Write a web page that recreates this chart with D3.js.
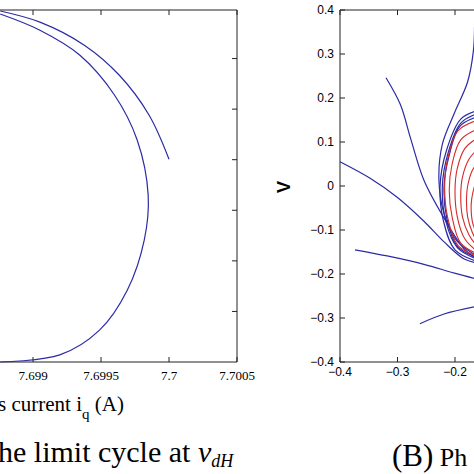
<!DOCTYPE html><html><head><meta charset="utf-8"><script src="https://cdn.jsdelivr.net/npm/d3@7"></script>
<style>body{margin:0;background:#fff}</style></head><body><svg id="c" width="474" height="474"></svg>
<script>
// Panel A: limit cycle (iq in A, y in arbitrary units)
const cycleOuter=[[7.698759,6.94],[7.699051,6.72],[7.699380,6.26],[7.699635,5.67],[7.699854,4.88],[7.7000,4.01]];
const cycleInner=[[7.698759,6.88],[7.699051,6.56],[7.699343,6.07],[7.699599,5.28],[7.699766,4.39],[7.699847,3.30],[7.699818,2.41],[7.699693,1.42],[7.699489,0.63],[7.699197,0.14],[7.698759,0]];
const xTicksA=[7.699,7.6995,7.7,7.7005];
const xTickLabelsA=["7.699","7.6995","7.7","7.7005"];
const yTicksA=[1,2,3,4,5,6];
// Panel B: phase trajectories
const blueTraj=[
 [[-0.4,0.055],[-0.347,0.017],[-0.30,-0.026],[-0.254,-0.08],[-0.219,-0.127],[-0.184,-0.166],[-0.16,-0.175]],
 [[-0.320,0.246],[-0.295,0.185],[-0.277,0.107],[-0.254,0.013],[-0.219,-0.073],[-0.184,-0.143],[-0.16,-0.168]],
 [[-0.374,-0.145],[-0.318,-0.159],[-0.254,-0.178],[-0.201,-0.198],[-0.16,-0.212]],
 [[-0.261,-0.313],[-0.219,-0.291],[-0.16,-0.273]],
 [[-0.166,0.362],[-0.168,0.307],[-0.178,0.237],[-0.201,0.166],[-0.222,0.095],[-0.228,0.016],[-0.219,-0.063],[-0.196,-0.126],[-0.16,-0.16]],
 [[-0.16,0.172],[-0.19,0.152],[-0.215,0.08],[-0.226,0],[-0.22,-0.08],[-0.2,-0.145],[-0.16,-0.172]],
 [[-0.16,0.165],[-0.19,0.143],[-0.212,0.075],[-0.222,0],[-0.216,-0.08],[-0.196,-0.14],[-0.16,-0.167]],
 [[-0.16,0.158],[-0.192,0.135],[-0.21,0.07],[-0.219,0],[-0.214,-0.075],[-0.196,-0.137],[-0.16,-0.163]]
];
const redTraj=[
 [[-0.16,0.15],[-0.195,0.125],[-0.213,0.06],[-0.218,0],[-0.213,-0.07],[-0.195,-0.135],[-0.16,-0.16]],
 [[-0.16,0.13],[-0.19,0.105],[-0.205,0.05],[-0.21,-0.01],[-0.205,-0.07],[-0.19,-0.13],[-0.16,-0.155]],
 [[-0.16,0.11],[-0.183,0.085],[-0.196,0.04],[-0.2,-0.01],[-0.196,-0.07],[-0.183,-0.12],[-0.16,-0.15]],
 [[-0.16,0.085],[-0.176,0.06],[-0.187,0.02],[-0.19,-0.02],[-0.187,-0.07],[-0.176,-0.11],[-0.16,-0.14]],
 [[-0.16,0.055],[-0.17,0.035],[-0.178,0],[-0.18,-0.03],[-0.178,-0.07],[-0.17,-0.105],[-0.16,-0.13]],
 [[-0.16,0.02],[-0.166,0.0],[-0.171,-0.03],[-0.172,-0.05],[-0.17,-0.08],[-0.165,-0.1],[-0.16,-0.11]]
];
const xTicksB=[-0.4,-0.3,-0.2];
const yTicksB=[-0.4,-0.3,-0.2,-0.1,0,0.1,0.2,0.3,0.4];

const svg=d3.select("#c");
const blue="#2b2ba6", red="#d42a2a";
const fmtB=t=>t===0?"0":d3.format(".1f")(t).replace("-","\u2212");
// Panel A
const xA=d3.scaleLinear().domain([7.699,7.7005]).range([33,237]);
const yA=d3.scaleLinear().domain([0,6.96]).range([362,10]);
const gA=svg.append("g");
gA.append("line").attr("x1",0).attr("x2",237).attr("y1",10).attr("y2",10).attr("stroke","#222");
gA.append("line").attr("x1",0).attr("x2",237).attr("y1",362).attr("y2",362).attr("stroke","#222");
gA.append("line").attr("x1",237).attr("x2",237).attr("y1",10).attr("y2",362).attr("stroke","#222");
xTicksA.forEach((t,i)=>{const x=xA(t);
 gA.append("line").attr("x1",x).attr("x2",x).attr("y1",362).attr("y2",357).attr("stroke","#222");
 gA.append("line").attr("x1",x).attr("x2",x).attr("y1",10).attr("y2",15).attr("stroke","#222");
 gA.append("text").attr("x",x).attr("y",380).attr("text-anchor","middle").attr("font-family","Liberation Serif").attr("font-size",13).text(xTickLabelsA[i]);});
yTicksA.forEach(t=>{gA.append("line").attr("x1",237).attr("x2",232).attr("y1",yA(t)).attr("y2",yA(t)).attr("stroke","#222");});
const lineA=d3.line().x(d=>xA(d[0])).y(d=>yA(d[1])).curve(d3.curveCatmullRom);
[cycleOuter,cycleInner].forEach(p=>gA.append("path").attr("d",lineA(p)).attr("fill","none").attr("stroke",blue).attr("stroke-width",1.2));
const tA=gA.append("text").attr("x",-2).attr("y",411).attr("font-family","Liberation Serif").attr("font-size",21);
tA.append("tspan").text("s current i");tA.append("tspan").attr("font-size",15).attr("dy",8).text("q");tA.append("tspan").attr("dy",-8).text(" (A)");
const cA=gA.append("text").attr("x",-2).attr("y",462).attr("font-family","Liberation Serif").attr("font-size",30);
cA.append("tspan").text("he limit cycle at ");cA.append("tspan").attr("font-style","italic").text("v");
cA.append("tspan").attr("font-style","italic").attr("font-size",18).attr("dy",5).text("dH");
// Panel B
const xB=d3.scaleLinear().domain([-0.4,-0.3]).range([340,397.5]);
const yB=d3.scaleLinear().domain([-0.4,0.4]).range([362,10]);
const gB=svg.append("g");
gB.append("line").attr("x1",340).attr("x2",474).attr("y1",10).attr("y2",10).attr("stroke","#222");
gB.append("line").attr("x1",340).attr("x2",474).attr("y1",362).attr("y2",362).attr("stroke","#222");
gB.append("line").attr("x1",340).attr("x2",340).attr("y1",10).attr("y2",362).attr("stroke","#222");
xTicksB.forEach(t=>{const x=xB(t);
 gB.append("line").attr("x1",x).attr("x2",x).attr("y1",362).attr("y2",357).attr("stroke","#222");
 gB.append("line").attr("x1",x).attr("x2",x).attr("y1",10).attr("y2",15).attr("stroke","#222");
 gB.append("text").attr("x",x).attr("y",376).attr("text-anchor","middle").attr("font-family","Liberation Sans").attr("font-size",12).text(fmtB(t));});
yTicksB.forEach(t=>{const y=yB(t);
 gB.append("line").attr("x1",340).attr("x2",345).attr("y1",y).attr("y2",y).attr("stroke","#222");
 gB.append("text").attr("x",334).attr("y",y+4).attr("text-anchor","end").attr("font-family","Liberation Sans").attr("font-size",12).text(fmtB(t));});
const lineB=d3.line().x(d=>xB(d[0])).y(d=>yB(d[1])).curve(d3.curveCatmullRom);
blueTraj.forEach(p=>gB.append("path").attr("d",lineB(p)).attr("fill","none").attr("stroke",blue).attr("stroke-width",1.2));
redTraj.forEach(p=>gB.append("path").attr("d",lineB(p)).attr("fill","none").attr("stroke",red).attr("stroke-width",1.1));
gB.append("text").attr("transform","translate(290,187) rotate(-90)").attr("text-anchor","middle").attr("font-family","Liberation Sans").attr("font-weight","bold").attr("font-size",18).text("V");
const cB=gB.append("text").attr("x",392).attr("y",466).attr("font-family","Liberation Serif").attr("font-size",31);
cB.append("tspan").text("(B)");cB.append("tspan").attr("font-size",26).text(" Ph");
</script></body></html>
